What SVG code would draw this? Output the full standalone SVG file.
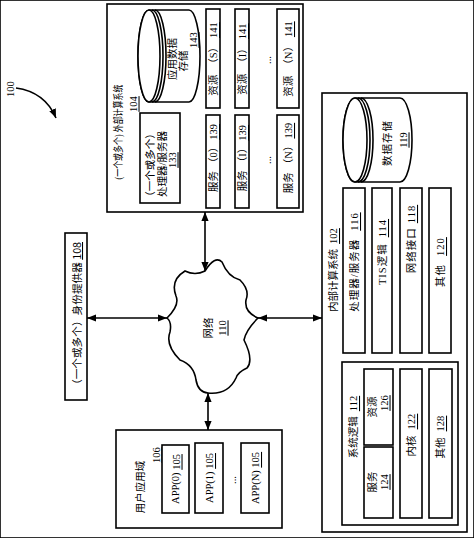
<svg xmlns="http://www.w3.org/2000/svg" width="474" height="538" viewBox="0 0 474 538">
<defs>
<marker id="ah" viewBox="0 0 10 8" refX="10" refY="4" markerWidth="9" markerHeight="7.2" markerUnits="userSpaceOnUse" orient="auto-start-reverse">
<path d="M0,0 L10,4 L0,8 z" fill="#000"/>
</marker>
<style>
rect, .sh { fill: #fff; stroke: #000; stroke-width: 1.6; }
.ln { fill: none; stroke: #000; stroke-width: 1.6; }
text { font-family: "Liberation Serif", "Noto Sans CJK SC", serif; font-size: 10.5px; fill: #000; text-anchor: middle; dominant-baseline: central; }
.u { text-decoration: underline; }
.s { font-family: "Noto Sans CJK SC", "Liberation Sans", sans-serif; }
.ls { letter-spacing: 1px; }
</style>
</defs>
<rect width="474" height="538" fill="#fff" stroke="none"/>

<g id="label100">
<text transform="translate(10 89) rotate(-90)" font-size="8">100</text>
<path class="ln" d="M16 88 Q45 92 56 118" marker-end="url(#ah)" stroke-width="1.4"/>
</g>

<g id="connectors">
<line class="ln" x1="205" y1="212" x2="205" y2="271" marker-start="url(#ah)" marker-end="url(#ah)"/>
<line class="ln" x1="258" y1="318" x2="322" y2="318" marker-start="url(#ah)" marker-end="url(#ah)"/>
<line class="ln" x1="208" y1="393" x2="208" y2="430" marker-start="url(#ah)" marker-end="url(#ah)"/>
<line class="ln" x1="87" y1="318" x2="167" y2="318" marker-start="url(#ah)" marker-end="url(#ah)"/>
</g>

<g id="n104">
<rect x="107" y="4" width="196" height="208"/>
<text transform="translate(118 132) rotate(-90)" font-size="9" textLength="95" lengthAdjust="spacingAndGlyphs">(一个或多个) 外部计算系统</text>
<text class="u" transform="translate(133 104) rotate(-90)" font-size="10">104</text>
<g id="n133">
<rect x="140" y="113" width="40" height="90"/>
<text transform="translate(150 165) rotate(-90)" font-size="10">（一个或多个）</text>
<text transform="translate(162 164) rotate(-90)" font-size="10">处理器/服务器</text>
<text class="u" transform="translate(172 160) rotate(-90)" font-size="10">133</text>
</g>
<g id="n143">
<path class="sh" d="M149 10 L189 10 A11 46 0 0 1 189 102 L149 102 A11 46 0 0 1 149 10 Z"/>
<ellipse class="sh" cx="149" cy="56" rx="11" ry="46"/>
<path class="ln" d="M152 10 A11 46 0 0 1 152 102"/>
<path class="ln" d="M155 10 A11 46 0 0 1 155 102"/>
<text transform="translate(172 59) rotate(-90)" font-size="10">应用数据</text>
<text transform="translate(183 61) rotate(-90)" font-size="10">存储</text>
<text class="u" transform="translate(193 40) rotate(-90)" font-size="10">143</text>
</g>
<g id="n141s"><rect x="206" y="9" width="14" height="99"/>
<text transform="translate(213 59) rotate(-90)">资源<tspan dx="6">（S）</tspan><tspan dx="4" class="u">141</tspan></text></g>
<g id="n141a"><rect x="235" y="9" width="14" height="99"/>
<text transform="translate(242 59) rotate(-90)">资源<tspan dx="6">（I）</tspan><tspan dx="4" class="u">141</tspan></text></g>
<text transform="translate(267 60) rotate(-90)" font-size="10">...</text>
<g id="n141n"><rect x="277" y="9" width="22" height="99"/>
<text transform="translate(288 59) rotate(-90)">资源<tspan dx="6">（N）</tspan><tspan dx="4" class="u">141</tspan></text></g>
<g id="n139a"><rect x="206" y="115" width="14" height="93"/>
<text transform="translate(213 158) rotate(-90)">服务<tspan dx="3">（0）</tspan><tspan dx="2" class="u">139</tspan></text></g>
<g id="n139b"><rect x="235" y="115" width="14" height="93"/>
<text transform="translate(242 158) rotate(-90)">服务<tspan dx="3">（I）</tspan><tspan dx="2" class="u">139</tspan></text></g>
<text transform="translate(267 160) rotate(-90)" font-size="10">...</text>
<g id="n139n"><rect x="277" y="115" width="22" height="93"/>
<text transform="translate(288 158) rotate(-90)">服务<tspan dx="3">（N）</tspan><tspan dx="2" class="u">139</tspan></text></g>
</g>

<g id="n110">
<path class="sh" d="M185 271 Q195 276 205 271 Q215 255 222 262 Q228 277 240 280 Q250 290 246 300 Q244 312 258 318 Q246 330 244 340 Q254 360 247 368 Q238 372 236 378 Q228 395 208 393 Q198 392 196 380 Q194 365 180 360 Q165 345 170 332 Q172 322 167 318 Q180 305 176 296 Q170 280 185 271 Z"/>
<text transform="translate(208 328) rotate(-90)" font-size="10">网络</text>
<text class="u" transform="translate(222 328) rotate(-90)" font-size="10">110</text>
</g>

<g id="n108">
<rect x="65" y="233" width="22" height="167"/>
<text class="s" transform="translate(76 316) rotate(-90)" textLength="148" lengthAdjust="spacingAndGlyphs">（一个或多个）身份提供器 <tspan class="u">108</tspan></text>
</g>

<g id="n106">
<rect x="116" y="430" width="166" height="98"/>
<text transform="translate(140 487) rotate(-90)" font-size="10.5">用户应用域</text>
<text class="u" transform="translate(156 455) rotate(-90)">106</text>
<g id="app0"><rect x="162" y="445" width="27" height="68"/>
<text transform="translate(175.5 479) rotate(-90)" font-size="11">APP(0) <tspan class="u">105</tspan></text></g>
<g id="app1"><rect x="195" y="443" width="28" height="70"/>
<text transform="translate(209 478) rotate(-90)" font-size="11">APP(1) <tspan class="u">105</tspan></text></g>
<text transform="translate(232 480) rotate(-90)" font-size="10">...</text>
<g id="appn"><rect x="241" y="443" width="28" height="70"/>
<text transform="translate(255 478) rotate(-90)" font-size="11">APP(N) <tspan class="u">105</tspan></text></g>
</g>

<g id="n102">
<rect x="322" y="93" width="145" height="439"/>
<text transform="translate(333 270) rotate(-90)" font-size="10.5">内部计算系统<tspan dx="5" class="u">102</tspan></text>
<g id="n119">
<path class="sh" d="M355 98 L400 98 A12 42 0 0 1 400 182 L355 182 A12 42 0 0 1 355 98 Z"/>
<ellipse class="sh" cx="355" cy="140" rx="12" ry="42"/>
<path class="ln" d="M358 98 A12 42 0 0 1 358 182"/>
<path class="ln" d="M361 98 A12 42 0 0 1 361 182"/>
<text class="ls" transform="translate(387 143) rotate(-90)" font-size="11">数据存储</text>
<text class="u" transform="translate(403 140) rotate(-90)">119</text>
</g>
<g id="n116"><rect x="343" y="188" width="22" height="165"/>
<text class="ls" transform="translate(354 262) rotate(-90)">处理器/服务器<tspan dx="8" class="u">116</tspan></text></g>
<g id="n114"><rect x="372" y="188" width="20" height="165"/>
<text class="ls" transform="translate(382 252) rotate(-90)">TIS逻辑<tspan dx="6" class="u">114</tspan></text></g>
<g id="n118"><rect x="400" y="188" width="22" height="165"/>
<text class="ls" transform="translate(411 239) rotate(-90)">网络接口<tspan dx="4" class="u">118</tspan></text></g>
<g id="n120"><rect x="429" y="188" width="22" height="165"/>
<text class="ls" transform="translate(440 262) rotate(-90)">其他<tspan dx="8" class="u">120</tspan></text></g>
<g id="n112">
<rect x="342" y="362" width="116" height="163"/>
<text transform="translate(353 427) rotate(-90)">系统逻辑<tspan dx="5" class="u">112</tspan></text>
<g id="n124"><rect x="364" y="447" width="29" height="71"/>
<text transform="translate(372 482) rotate(-90)">服务</text>
<text class="u" transform="translate(384 482) rotate(-90)">124</text></g>
<g id="n126"><rect x="364" y="369" width="29" height="76"/>
<text transform="translate(372 407) rotate(-90)">资源</text>
<text class="u" transform="translate(384 403) rotate(-90)">126</text></g>
<g id="n122"><rect x="400" y="369" width="22" height="149"/>
<text transform="translate(411 435) rotate(-90)">内核<tspan dx="6" class="u">122</tspan></text></g>
<g id="n128"><rect x="429" y="369" width="23" height="149"/>
<text transform="translate(440 437) rotate(-90)">其他<tspan dx="6" class="u">128</tspan></text></g>
</g>
</g>
</svg>
